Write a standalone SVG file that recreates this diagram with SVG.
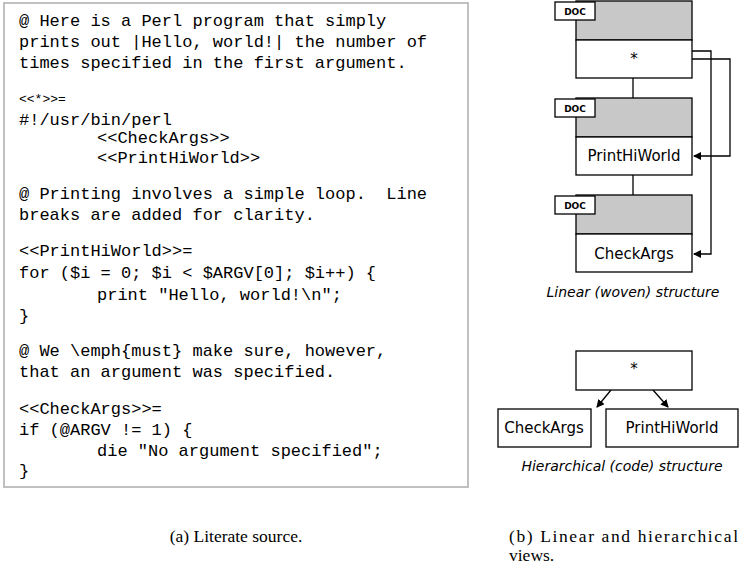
<svg xmlns="http://www.w3.org/2000/svg" width="750" height="566" viewBox="0 0 750 566">
<style>
.code{font-family:"Liberation Mono",monospace;font-size:17px;fill:#000}
.sm{font-size:13px}
.box{fill:#fff;stroke:#000;stroke-width:1.3}
.gray{fill:#c8c8c8;stroke:#000;stroke-width:1.3}
.lbl{font-family:"DejaVu Sans",sans-serif;font-size:15px;text-anchor:middle}
.doc{font-family:"DejaVu Sans",sans-serif;font-size:9px;font-weight:bold;text-anchor:middle}
.cap{font-family:"DejaVu Sans",sans-serif;font-size:14px;font-style:italic;text-anchor:middle}
.ser{font-family:"Liberation Serif",serif;font-size:17.5px}
.ln{fill:none;stroke:#000;stroke-width:1.3}
</style>
<defs><marker id="ah" markerWidth="8" markerHeight="8" refX="7" refY="4" orient="auto" markerUnits="userSpaceOnUse"><path d="M0,0 L8,4 L0,8 z" fill="#000"/></marker></defs>
<rect x="4" y="3" width="464" height="484" fill="#fff" stroke="#c0c0c0" stroke-width="2"/>
<g id="source" class="code">
<text x="19" y="26">@ Here is a Perl program that simply</text>
<text x="19" y="47">prints out |Hello, world!| the number of</text>
<text x="19" y="68">times specified in the first argument.</text>
<text x="19" y="103" class="code sm">&lt;&lt;*&gt;&gt;=</text>
<text x="19" y="125">#!/usr/bin/perl</text>
<text x="97" y="143">&lt;&lt;CheckArgs&gt;&gt;</text>
<text x="97" y="163">&lt;&lt;PrintHiWorld&gt;&gt;</text>
<text x="19" y="199">@ Printing involves a simple loop.&#160; Line</text>
<text x="19" y="220">breaks are added for clarity.</text>
<text x="19" y="256">&lt;&lt;PrintHiWorld&gt;&gt;=</text>
<text x="19" y="278">for ($i = 0; $i &lt; $ARGV[0]; $i++) {</text>
<text x="97" y="300">print "Hello, world!\n";</text>
<text x="19" y="321">}</text>
<text x="19" y="356">@ We \emph{must} make sure, however,</text>
<text x="19" y="377">that an argument was specified.</text>
<text x="19" y="414">&lt;&lt;CheckArgs&gt;&gt;=</text>
<text x="19" y="435">if (@ARGV != 1) {</text>
<text x="97" y="456">die "No argument specified";</text>
<text x="19" y="476">}</text>
</g>
<g id="connectors">
<line class="ln" x1="633" y1="78" x2="633" y2="98"/>
<line class="ln" x1="633" y1="175" x2="633" y2="195"/>
<polyline class="ln" points="692,51 711,51 711,254 694,254" marker-end="url(#ah)"/>
<polyline class="ln" points="692,59 730,59 730,156 694,156" marker-end="url(#ah)"/>
<line class="ln" x1="611" y1="390" x2="597" y2="407" marker-end="url(#ah)"/>
<line class="ln" x1="653" y1="390" x2="668" y2="407" marker-end="url(#ah)"/>
</g>
<g id="lin-star">
<rect class="gray" x="576" y="1" width="116" height="39"/><rect class="box" x="576" y="40" width="116" height="38"/>
<rect class="box" x="555" y="2" width="40" height="18"/><text class="doc" x="575" y="15">DOC</text>
<text class="lbl" x="634" y="64">*</text>
</g>
<g id="lin-print">
<rect class="gray" x="576" y="98" width="116" height="39"/><rect class="box" x="576" y="137" width="116" height="38"/>
<rect class="box" x="555" y="99" width="40" height="18"/><text class="doc" x="575" y="112">DOC</text>
<text class="lbl" x="634" y="161">PrintHiWorld</text>
</g>
<g id="lin-check">
<rect class="gray" x="576" y="195" width="116" height="39"/><rect class="box" x="576" y="234" width="116" height="38"/>
<rect class="box" x="555" y="196" width="40" height="18"/><text class="doc" x="575" y="209">DOC</text>
<text class="lbl" x="634" y="259">CheckArgs</text>
</g>
<text class="cap" x="633" y="297">Linear (woven) structure</text>
<g id="h-star"><rect class="box" x="576" y="351" width="116" height="39"/><text class="lbl" x="634" y="374">*</text></g>
<g id="h-check"><rect class="box" x="498" y="409" width="93" height="38"/><text class="lbl" x="544" y="433">CheckArgs</text></g>
<g id="h-print"><rect class="box" x="606" y="409" width="132" height="38"/><text class="lbl" x="672" y="433">PrintHiWorld</text></g>
<text class="cap" x="622" y="471">Hierarchical (code) structure</text>
<text class="ser" x="236" y="542" text-anchor="middle">(a) Literate source.</text>
<text class="ser" x="509" y="542" textLength="229" lengthAdjust="spacing">(b) Linear and hierarchical</text>
<text class="ser" x="509" y="561">views.</text>
</svg>
